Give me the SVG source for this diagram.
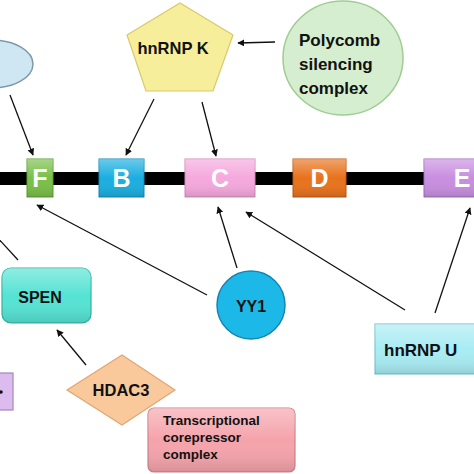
<svg xmlns="http://www.w3.org/2000/svg" width="474" height="474" viewBox="0 0 474 474">
<style>
.lbl{font-family:"Liberation Sans",Arial,sans-serif;font-weight:bold;fill:#111;}
.seg{font-family:"Liberation Sans",Arial,sans-serif;font-weight:bold;fill:#fff;font-size:25px;text-anchor:middle;}
.con{stroke:#111;stroke-width:1.3;fill:none;}
.arr{marker-end:url(#ah);}
</style>
<defs>
<marker id="ah" viewBox="0 0 10 10" refX="9" refY="5" markerWidth="7" markerHeight="7" markerUnits="userSpaceOnUse" orient="auto">
<path d="M0,0 L10,5 L0,10 z" fill="#111"/>
</marker>
<linearGradient id="gv" x1="0" y1="0" x2="0" y2="1">
<stop offset="0" stop-color="#fff" stop-opacity="0.35"/>
<stop offset="0.5" stop-color="#fff" stop-opacity="0"/>
<stop offset="1" stop-color="#000" stop-opacity="0.12"/>
</linearGradient>
</defs>
<rect width="474" height="474" fill="#fff"/>

<!-- backbone -->
<g id="backbone"><rect x="0" y="172" width="440" height="13" fill="#000"/></g>

<g id="connectors">
<line class="con arr" x1="10" y1="95" x2="33" y2="155"/>
<line class="con arr" x1="154" y1="99" x2="126" y2="155"/>
<line class="con arr" x1="202" y1="102" x2="216" y2="156"/>
<line class="con arr" x1="275" y1="42" x2="238" y2="43"/>
<line class="con arr" x1="207" y1="295" x2="37" y2="205"/>
<line class="con arr" x1="237" y1="268" x2="218" y2="207"/>
<line class="con arr" x1="405" y1="310" x2="246" y2="212"/>
<line class="con arr" x1="435" y1="313" x2="470" y2="208"/>
<line class="con" x1="-4" y1="236" x2="18" y2="260"/>
<line class="con arr" x1="86" y1="365" x2="57" y2="330"/>
</g>

<g id="F"><rect x="27" y="159" width="26" height="38" fill="#79bf48" stroke="#5a9a33" stroke-width="1"/><rect x="27" y="159" width="26" height="38" fill="url(#gv)"/><text class="seg" x="40" y="187">F</text></g>
<g id="B"><rect x="99" y="159" width="45" height="38" fill="#1aaee0" stroke="#1388b4" stroke-width="1"/><rect x="99" y="159" width="45" height="38" fill="url(#gv)"/><text class="seg" x="121.5" y="187">B</text></g>
<g id="C"><rect x="185" y="159" width="70" height="38" fill="#f5a8dd" stroke="#d088bb" stroke-width="1"/><rect x="185" y="159" width="70" height="38" fill="url(#gv)"/><text class="seg" x="220" y="187">C</text></g>
<g id="D"><rect x="293" y="159" width="53" height="38" fill="#e8721c" stroke="#b85812" stroke-width="1"/><rect x="293" y="159" width="53" height="38" fill="url(#gv)"/><text class="seg" x="319.5" y="187">D</text></g>
<g id="E"><rect x="424" y="159" width="60" height="38" fill="#c88ee0" stroke="#a06cb8" stroke-width="1"/><rect x="424" y="159" width="60" height="38" fill="url(#gv)"/><text class="seg" x="462" y="187">E</text></g>

<g id="ellipse"><ellipse cx="-8" cy="64" rx="41" ry="24" fill="#cfe7f3" stroke="#7f9aa6" stroke-width="1.5"/></g>

<g id="hnRNPK"><polygon points="180,3 233,35 213,91 146,91 127,35" fill="#f7ee9c" stroke="#d8c96a" stroke-width="1.2"/><text class="lbl" x="173" y="54" font-size="16.5" text-anchor="middle">hnRNP K</text></g>

<g id="polycomb"><ellipse cx="343" cy="58" rx="60" ry="57" fill="#d5eed0" stroke="#9fcd93" stroke-width="1.5"/>
<text class="lbl" font-size="17" x="299" y="46">Polycomb</text>
<text class="lbl" font-size="17" x="299" y="70">silencing</text>
<text class="lbl" font-size="17" x="299" y="94">complex</text></g>

<g id="SPEN"><rect x="2" y="268" width="89" height="55" rx="9" fill="#55e3d3" stroke="#2fb3a6" stroke-width="1.2"/><rect x="2" y="268" width="89" height="55" rx="9" fill="url(#gv)"/><text class="lbl" x="40" y="303" font-size="16" text-anchor="middle">SPEN</text></g>

<g id="YY1"><circle cx="251" cy="305" r="34" fill="#1cb9e8" stroke="#1486b4" stroke-width="1.5"/><text class="lbl" x="251" y="312" font-size="16" text-anchor="middle">YY1</text></g>

<g id="hnRNPU"><rect x="375" y="324" width="104" height="50" fill="#a8ecf3" stroke="#7cc8d2" stroke-width="1.2"/><rect x="375" y="324" width="104" height="50" fill="url(#gv)"/><text class="lbl" x="384" y="356" font-size="17">hnRNP U</text></g>

<g id="HDAC3"><polygon points="122,355 175,390 122,425 67,390" fill="#f9c99c" stroke="#e0a574" stroke-width="1.2"/><text class="lbl" x="121" y="396" font-size="16.5" text-anchor="middle">HDAC3</text></g>

<g id="corepressor"><rect x="148" y="408" width="147" height="64" rx="6" fill="#f5a3ab" stroke="#d0808a" stroke-width="1.2"/><rect x="148" y="408" width="147" height="64" rx="6" fill="url(#gv)"/>
<text class="lbl" font-size="13.5" x="163" y="425">Transcriptional</text>
<text class="lbl" font-size="13.5" x="163" y="442">corepressor</text>
<text class="lbl" font-size="13.5" x="163" y="459">complex</text></g>

<g id="purplebox"><rect x="-10" y="373" width="23" height="37" fill="#dcbcef" stroke="#a586bd" stroke-width="1.2"/><circle cx="1" cy="392" r="1.8" fill="#111"/></g>
</svg>
